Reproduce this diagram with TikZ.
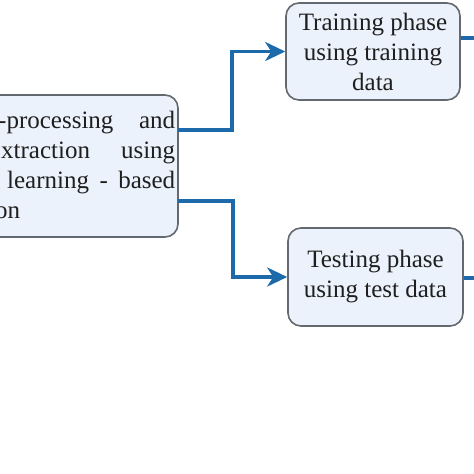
\documentclass[tikz,border=0pt]{standalone}
\usepackage{fontspec}
\setmainfont{Liberation Serif}
\usetikzlibrary{arrows.meta}
\definecolor{linkblue}{RGB}{28,106,170}
\definecolor{boxfill}{RGB}{236,242,251}
\definecolor{boxdraw}{RGB}{100,105,112}
\begin{document}
\begin{tikzpicture}[x=1pt,y=-1pt,
  phasebox/.style={draw=boxdraw, line width=1.6pt, fill=boxfill, rounded corners=13pt},
  link/.style={draw=linkblue, line width=3.3pt},
  linkarrow/.style={link, -{Stealth[length=20pt,width=19pt,inset=6pt]}},
  lbl/.style={font=\fontsize{25}{30}\selectfont, inner sep=0pt, align=center, text=black!88}]
\useasboundingbox (0,0) rectangle (474,474);
\begin{scope}
\clip (0,0) rectangle (474,474);
% left box
\draw[phasebox] (-40,95) rectangle (178,237);
\node[lbl, align=left, text width=177pt, anchor=base west] (l1) at (-2,128) {-processing\hfill and};
\node[lbl, align=left, text width=174pt, anchor=base west] (l2) at (1,158) {xtraction\hfill using};
\node[lbl, align=left, text width=168pt, anchor=base west] (l3) at (7,188) {learning\hfill -\hfill based};
\node[lbl, anchor=base west] (l4) at (-5,218) {on};
\coordinate (preA) at (178,130);
\coordinate (preB) at (178,201);
% right boxes
\node[phasebox, lbl, minimum width=174pt, minimum height=97pt] (train) at (373,51.5) {Training phase\\using training\\data};
\node[phasebox, lbl, minimum width=175pt, minimum height=98pt] (test) at (375.5,277) {Testing phase\\using test data};
\coordinate (outA) at (476,38);
\coordinate (outB) at (476,278);
\draw[linkarrow] (preA) -- (232,130) |- (train.west);
\draw[linkarrow] (preB) -- (233,201) |- (test.west);
\draw[link] (train.east |- outA) -- (outA);
\draw[link] (test.east |- outB) -- (outB);
\end{scope}
\end{tikzpicture}
\end{document}
